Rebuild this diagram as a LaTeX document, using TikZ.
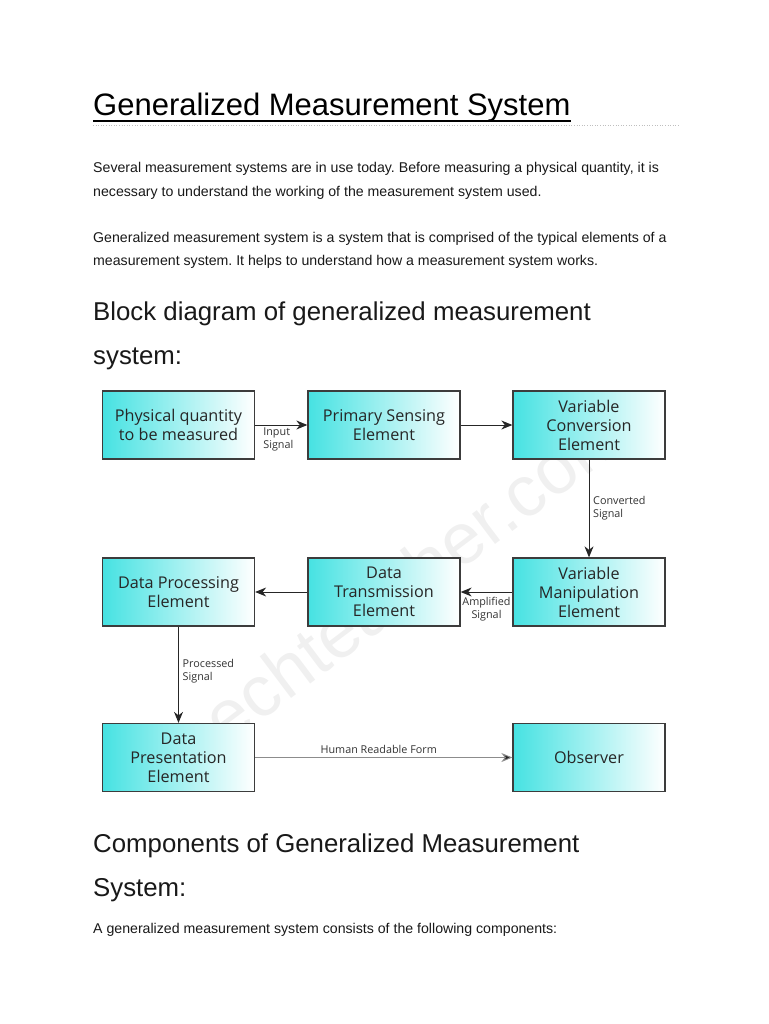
\documentclass[tikz,border=0pt]{standalone}
\usepackage{fontspec}
\setmainfont{Liberation Sans}
\newfontfamily\boxfont{Open Sans}
\usetikzlibrary{arrows.meta,calc}
\definecolor{boxcyan}{RGB}{70,226,226}
\definecolor{boxline}{RGB}{60,60,60}
\tikzset{
  blk/.style={draw=boxline, line width=1.3pt, minimum width=152pt, minimum height=68pt,
    left color=boxcyan, right color=white, align=center, inner sep=0pt,
    font=\boxfont\fontsize{16.2}{19}\selectfont, text=black!85},
  conn/.style={draw=black!85, line width=1pt, -{Stealth[length=11pt,width=9pt,inset=3.5pt]}},
  lightconn/.style={draw=black!45, line width=0.9pt, -{Stealth[length=11pt,width=9pt,inset=3.5pt,fill=black!85]}},
  lbl/.style={font=\boxfont\fontsize{10.8}{13}\selectfont, text=black!80, align=left, inner sep=0pt},
  para/.style={anchor=base west, inner sep=0pt, font=\fontsize{14.15}{16}\selectfont, text=black!90},
  head/.style={anchor=base west, inner sep=0pt, font=\fontsize{25.8}{30}\selectfont, text=black!90}
}
\begin{document}
\frenchspacing
\begin{tikzpicture}[x=1pt,y=-1pt]
\useasboundingbox[fill=white] (0,0) rectangle (768,1024);

% title
\node[anchor=base west, inner sep=0pt, font=\fontsize{31}{36}\selectfont] (title) at (93,116) {Generalized Measurement System};
\draw[line width=1.2pt] ($(title.base west)+(0,5)$) -- ($(title.base east)+(0,5)$);
\coordinate (d1) at (93,125);
\coordinate (d2) at (680,125);
\draw[black!25, line width=0.6pt, dotted] (d1) -- (d2);

% paragraphs
\node[para] (p1) at (93,173) {Several measurement systems are in use today. Before measuring a physical quantity, it is};
\node[para] (p2) at (93,197) {necessary to understand the working of the measurement system used.};
\node[para] (p3) at (93,242) {Generalized measurement system is a system that is comprised of the typical elements of a};
\node[para] (p4) at (93,265) {measurement system. It helps to understand how a measurement system works.};

\node[head] (h1) at (93,320) {Block diagram of generalized measurement};
\node[head] (h2) at (93,364) {system:};

% watermark
\node[rotate=37, text=black, opacity=0.06, font=\fontsize{72}{72}\selectfont, inner sep=0pt] (wm) at (390,592) {mechteacher.com};

% blocks
\node[blk] (b1) at (178.5,425) {Physical quantity\\to be measured};
\node[blk] (b2) at (384,425) {Primary Sensing\\Element};
\node[blk] (b3) at (589,425) {Variable\\Conversion\\Element};
\node[blk] (b4) at (178.5,592) {Data Processing\\Element};
\node[blk] (b5) at (384,592) {Data\\Transmission\\Element};
\node[blk] (b6) at (589,592) {Variable\\Manipulation\\Element};
\node[blk] (b7) at (178.5,757.5) {Data\\Presentation\\Element};
\node[blk] (b8) at (589,757.5) {Observer};

% connectors
\draw[conn] (b1.east) -- (b2.west);
\draw[conn] (b2.east) -- (b3.west);
\draw[conn] (b3.south) -- (b6.north);
\draw[conn] (b6.west) -- (b5.east);
\draw[conn] (b5.west) -- (b4.east);
\draw[conn] (b4.south) -- (b7.north);
\draw[lightconn] (b7.east) -- (b8.west);

% connector labels
\node[lbl, anchor=north west] (l1) at ($(b1.east)+(8,3)$) {Input\\Signal};
\node[lbl, anchor=west] (l2) at ($(b3.south)!0.5!(b6.north)+(4,0)$) {Converted\\Signal};
\node[lbl, anchor=north, align=center] (l3) at ($(b6.west)!0.5!(b5.east)+(0,5)$) {Amplified\\Signal};
\node[lbl, anchor=west] (l4) at ($(b4.south)!0.5!(b7.north)+(4,-4)$) {Processed\\Signal};
\node[lbl, anchor=south] (l5) at ($(b7.east)!0.5!(b8.west)+(-5,-4)$) {Human Readable Form};

% lower text
\node[head] (h3) at (93,852) {Components of Generalized Measurement};
\node[head] (h4) at (93,896) {System:};
\node[para] (p5) at (93,933) {A generalized measurement system consists of the following components:};
\end{tikzpicture}
\end{document}
